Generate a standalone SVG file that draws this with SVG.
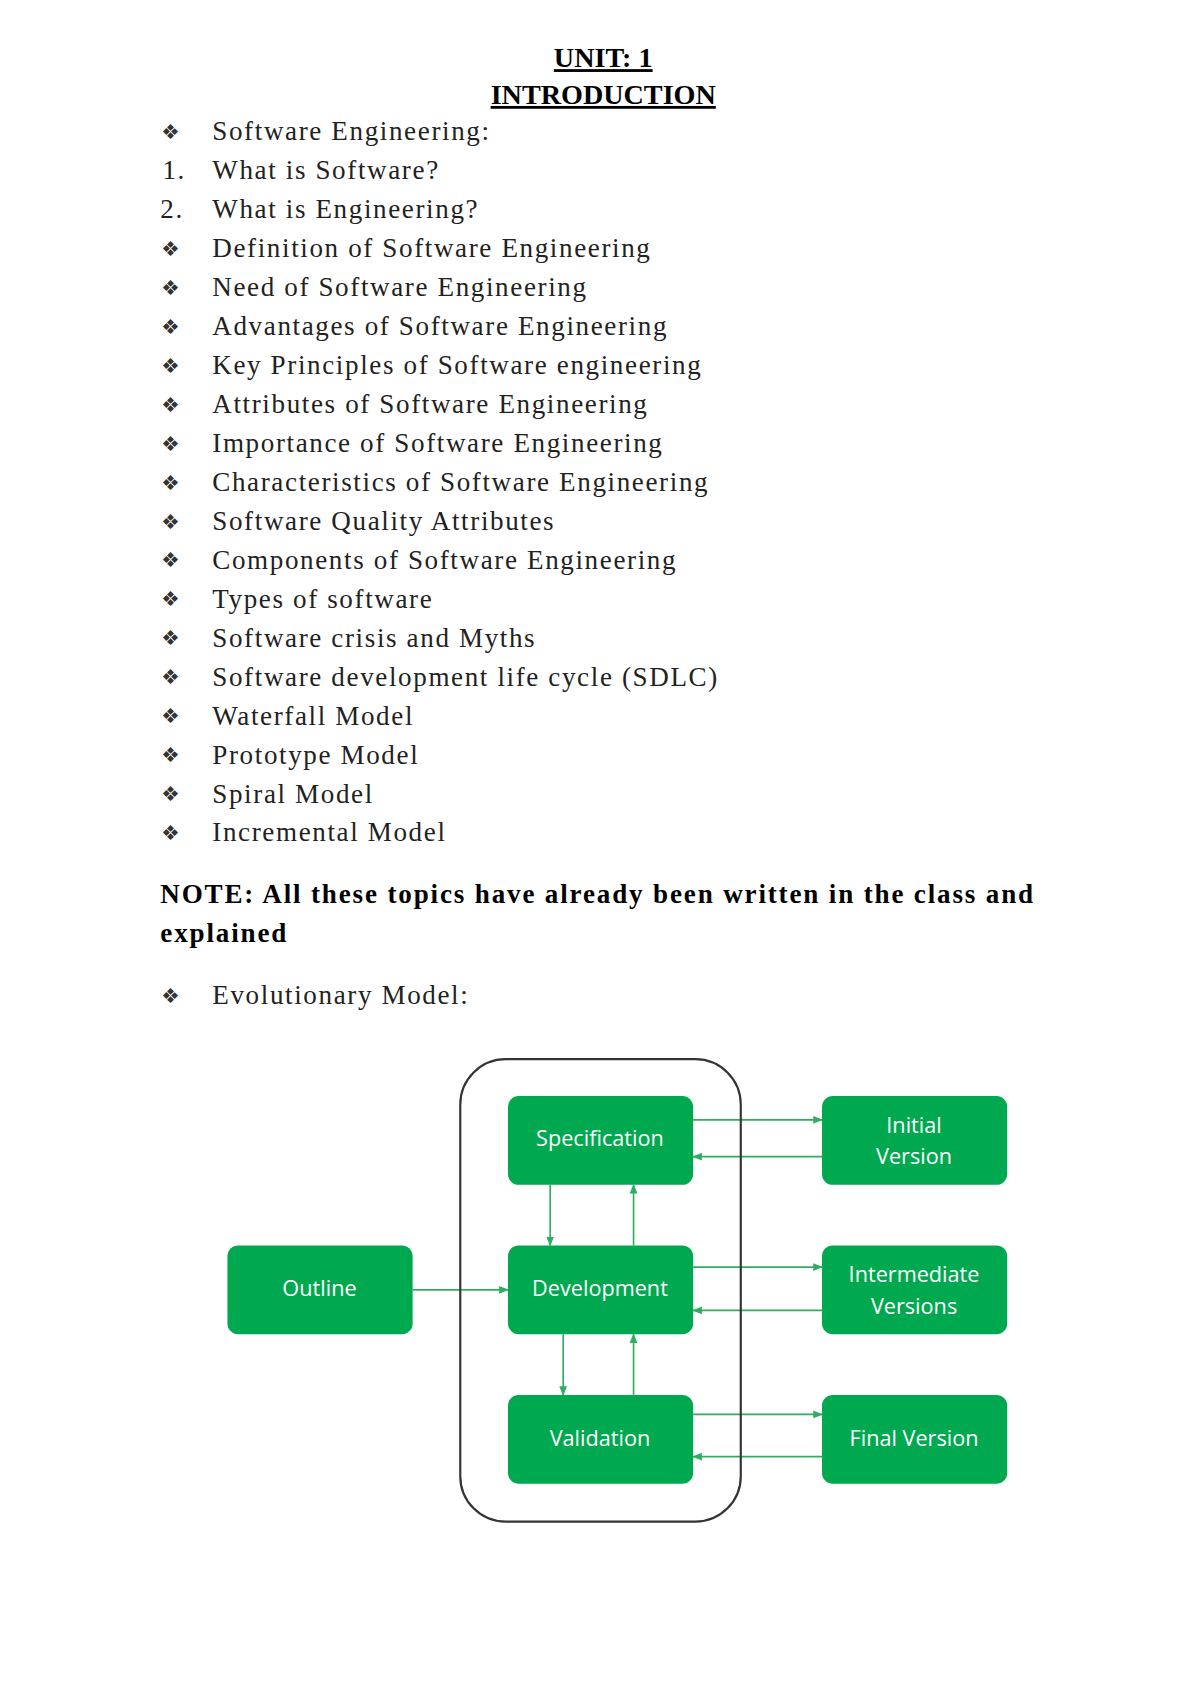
<svg xmlns="http://www.w3.org/2000/svg" width="1200" height="1696" viewBox="0 0 1200 1696">
<defs>
<style>
.t{font-family:"Liberation Serif",serif;font-size:25px;fill:#222;letter-spacing:1.5px}
.b{font-family:"DejaVu Sans",sans-serif;font-size:19px;fill:#333}
.h{font-family:"Liberation Serif",serif;font-size:26px;font-weight:bold;text-anchor:middle;text-decoration:underline;fill:#000}
.n{font-family:"Liberation Serif",serif;font-size:25px;font-weight:bold;fill:#000;letter-spacing:1.7px}
.box{fill:#00A94F}
.bt{font-family:"Open Sans","Noto Sans",sans-serif;font-size:20px;fill:#fff;text-anchor:middle}
.c{stroke:#2FAE5F;stroke-width:1.5;fill:none;marker-end:url(#a)}
</style>
<marker id="a" viewBox="0 0 10 10" refX="9" refY="5" markerWidth="6" markerHeight="6" orient="auto"><path d="M0,1 L10,5 L0,9 z" fill="#2FAE5F"/></marker>
</defs>
<rect width="1200" height="1696" fill="#fff"/>
<g transform="scale(1.083)">
<text class="h" x="557" y="62">UNIT: 1</text>
<text class="h" x="557" y="96">INTRODUCTION</text>
<g id="list">
<text class="b" x="149" y="128">❖</text><text class="t" x="196" y="129">Software Engineering:</text>
<text class="t" x="150" y="165">1.</text><text class="t" x="196" y="165">What is Software?</text>
<text class="t" x="148" y="201">2.</text><text class="t" x="196" y="201">What is Engineering?</text>
<text class="b" x="149" y="236">❖</text><text class="t" x="196" y="237">Definition of Software Engineering</text>
<text class="b" x="149" y="272">❖</text><text class="t" x="196" y="273">Need of Software Engineering</text>
<text class="b" x="149" y="308">❖</text><text class="t" x="196" y="309">Advantages of Software Engineering</text>
<text class="b" x="149" y="344">❖</text><text class="t" x="196" y="345">Key Principles of Software engineering</text>
<text class="b" x="149" y="380">❖</text><text class="t" x="196" y="381">Attributes of Software Engineering</text>
<text class="b" x="149" y="416">❖</text><text class="t" x="196" y="417">Importance of Software Engineering</text>
<text class="b" x="149" y="452">❖</text><text class="t" x="196" y="453">Characteristics of Software Engineering</text>
<text class="b" x="149" y="488">❖</text><text class="t" x="196" y="489">Software Quality Attributes</text>
<text class="b" x="149" y="524">❖</text><text class="t" x="196" y="525">Components of Software Engineering</text>
<text class="b" x="149" y="560">❖</text><text class="t" x="196" y="561">Types of software</text>
<text class="b" x="149" y="596">❖</text><text class="t" x="196" y="597">Software crisis and Myths</text>
<text class="b" x="149" y="632">❖</text><text class="t" x="196" y="633">Software development life cycle (SDLC)</text>
<text class="b" x="149" y="668">❖</text><text class="t" x="196" y="669">Waterfall Model</text>
<text class="b" x="149" y="704">❖</text><text class="t" x="196" y="705">Prototype Model</text>
<text class="b" x="149" y="740">❖</text><text class="t" x="196" y="741">Spiral Model</text>
<text class="b" x="149" y="776">❖</text><text class="t" x="196" y="777">Incremental Model</text>
<text class="n" x="148" y="834">NOTE: All these topics have already been written in the class and</text>
<text class="n" x="148" y="870">explained</text>
<text class="b" x="149" y="926">❖</text><text class="t" x="196" y="927">Evolutionary Model:</text>
</g>
<g id="connectors">
<line class="c" x1="640" y1="1034" x2="759" y2="1034"/>
<line class="c" x1="759" y1="1068" x2="640" y2="1068"/>
<line class="c" x1="640" y1="1170" x2="759" y2="1170"/>
<line class="c" x1="759" y1="1210" x2="640" y2="1210"/>
<line class="c" x1="640" y1="1306" x2="759" y2="1306"/>
<line class="c" x1="759" y1="1345" x2="640" y2="1345"/>
<line class="c" x1="508" y1="1094" x2="508" y2="1150"/>
<line class="c" x1="585" y1="1150" x2="585" y2="1094"/>
<line class="c" x1="520" y1="1232" x2="520" y2="1288"/>
<line class="c" x1="585" y1="1288" x2="585" y2="1232"/>
<line class="c" x1="381" y1="1191" x2="469" y2="1191"/>
</g>
<rect id="container" x="425" y="978" width="259" height="427" rx="42" fill="none" stroke="#333" stroke-width="2"/>
<g id="spec"><rect class="box" x="469" y="1012" width="171" height="82" rx="10"/><text class="bt" x="554" y="1058">Specification</text></g>
<g id="dev"><rect class="box" x="469" y="1150" width="171" height="82" rx="10"/><text class="bt" x="554" y="1197">Development</text></g>
<g id="val"><rect class="box" x="469" y="1288" width="171" height="82" rx="10"/><text class="bt" x="554" y="1335">Validation</text></g>
<g id="outline"><rect class="box" x="210" y="1150" width="171" height="82" rx="10"/><text class="bt" x="295" y="1197">Outline</text></g>
<g id="initial"><rect class="box" x="759" y="1012" width="171" height="82" rx="10"/><text class="bt" x="844" y="1046">Initial</text><text class="bt" x="844" y="1075">Version</text></g>
<g id="inter"><rect class="box" x="759" y="1150" width="171" height="82" rx="10"/><text class="bt" x="844" y="1184">Intermediate</text><text class="bt" x="844" y="1213">Versions</text></g>
<g id="final"><rect class="box" x="759" y="1288" width="171" height="82" rx="10"/><text class="bt" x="844" y="1335">Final Version</text></g>
</g>
</svg>
